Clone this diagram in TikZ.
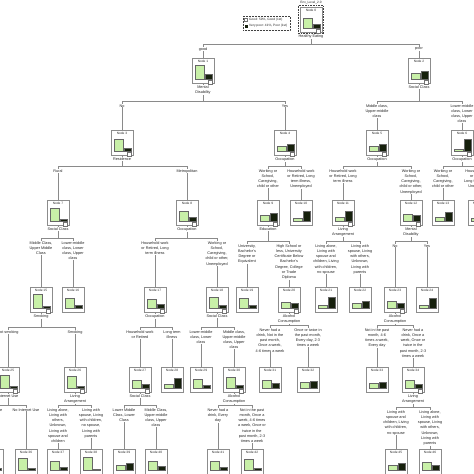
\documentclass[tikz,border=0pt]{standalone}
\usepackage{fontspec}
\setmainfont{Liberation Sans}
\definecolor{gbar}{HTML}{C8F0A8}
\definecolor{kbar}{HTML}{16200C}
\definecolor{lin}{HTML}{8A8A8A}
\tikzset{
  tbox/.style={draw=black!45, line width=0.9pt, fill=white, minimum width=22pt, minimum height=25pt, inner sep=0pt},
  ntitle/.style={font=\fontsize{3.2}{3.6}\selectfont, inner sep=0pt, anchor=north, text=black!85},
  conn/.style={draw=lin, line width=0.5pt},
  elab/.style={font=\fontsize{3.8}{5.2}\selectfont, align=center, fill=white, inner sep=0.3pt, anchor=north, text=black!85},
  greenbar/.style={fill=gbar, draw=black!60, line width=0.3pt},
  blackbar/.style={fill=kbar, draw=black!60, line width=0.3pt},
  togglebox/.style={draw=black!55, fill=white, line width=0.3pt},
}
\newcommand{\tnode}[5]{%
  \node[tbox] (n#1) at ({#2},{#3+12.5}) {};
  \node[ntitle] at ({#2},{#3+2}) {Node #1};
  \path[greenbar] ({#2-8},{#3+21}) rectangle ({#2+1},{#3+21-#4});
  \path[blackbar] ({#2+2},{#3+21}) rectangle ({#2+9},{#3+21-#5});
}
\newcommand{\tog}[2]{\path[togglebox] ({#1+5},{#2+22}) rectangle ({#1+9},{#2+26.5});}
\newcommand{\spl}[3]{\coordinate (s#1) at ({#2},{#3});}
\newcommand{\edg}[3]{%
  \draw[conn] (n#1.south) -- (s#1) -| (n#2.north);
  \node[elab, yshift=-3pt] at (n#2.north |- s#1) {#3};
}
\newcommand{\vlab}[2]{\node[elab, yshift=-1.8pt] at (n#1.south) {#2};}
\begin{document}
\begin{tikzpicture}[x=1pt,y=-1pt]
\useasboundingbox (0,0) rectangle (474,474);
\clip (0,0) rectangle (474,474);
\fill[white] (0,0) rectangle (474,474);
% ---------- nodes ----------
\tnode{0}{311}{7}{10}{4}
\tnode{1}{203}{58}{14}{5}
\tnode{2}{419}{58}{6}{8}
\tnode{3}{122}{130}{12}{3}
\tnode{4}{285}{130}{5}{7}
\tnode{5}{377}{130}{5}{7}
\tnode{6}{462}{130}{2}{12}
\tnode{7}{58}{200}{13}{2}
\tnode{8}{187}{200}{10}{4}
\tnode{9}{268}{200}{6}{8}
\tnode{10}{301}{200}{3}{10}
\tnode{11}{343}{200}{4}{10}
\tnode{12}{411}{200}{7}{6}
\tnode{13}{443}{200}{4}{9}
\tnode{14}{479}{200}{3}{5}
\tnode{15}{41}{287}{14}{2}
\tnode{16}{73}{287}{10}{3}
\tnode{17}{155}{287}{9}{4}
\tnode{18}{217}{287}{11}{3}
\tnode{19}{247}{287}{10}{3}
\tnode{20}{289}{287}{6}{5}
\tnode{21}{326}{287}{3}{11}
\tnode{22}{360}{287}{5}{7}
\tnode{23}{395}{287}{7}{5}
\tnode{24}{427}{287}{3}{10}
\tnode{25}{8}{367}{13}{2}
\tnode{26}{75}{367}{12}{2}
\tnode{27}{140}{367}{8}{4}
\tnode{28}{172}{367}{4}{10}
\tnode{29}{201}{367}{9}{3}
\tnode{30}{234}{367}{11}{3}
\tnode{31}{270}{367}{8}{5}
\tnode{32}{308}{367}{6}{7}
\tnode{33}{377}{367}{5}{6}
\tnode{34}{413}{367}{8}{4}
\tnode{35}{-8}{449}{12}{2}
\tnode{36}{26}{449}{12}{2}
\tnode{37}{58}{449}{9}{3}
\tnode{38}{91}{449}{13}{1}
\tnode{39}{124}{449}{5}{7}
\tnode{40}{156}{449}{9}{4}
\tnode{41}{218}{449}{9}{3}
\tnode{42}{252}{449}{11}{2}
\tnode{45}{396}{449}{5}{7}
\tnode{46}{430}{449}{8}{5}
% root highlight and title
\draw[black!75, densely dotted, line width=0.6pt] (298.5,5.5) rectangle (323.5,33.5);
\node[ntitle] (title) at (311,0.8) {Env\_Level\_2.0};
% legend
\node[draw=black!75, densely dotted, line width=0.5pt, minimum width=47pt, minimum height=14pt, inner sep=0pt] (leg) at (266.5,23) {};
\path[togglebox] (244.5,18.5) rectangle (247.5,21.5);
\fill[kbar] (244.5,24.5) rectangle (247.5,27.5);
\node[ntitle, anchor=west] (leg1) at (249,20) {Good: 59\%, Good (1st)};
\node[ntitle, anchor=west] (leg2) at (249,26) {Very poor: 41\%, Poor (1st)};
% ---------- splits ----------
\spl{0}{311}{44}
\spl{1}{203}{101}
\spl{2}{419}{101}
\spl{3}{122}{166}
\spl{4}{285}{166}
\spl{5}{377}{166}
\spl{6}{462}{166}
\spl{7}{58}{238}
\spl{8}{187}{238}
\spl{9}{268}{241}
\spl{11}{343}{241}
\spl{12}{411}{241}
\spl{15}{41}{327}
\spl{17}{155}{327}
\spl{18}{217}{327}
\spl{20}{289}{325}
\spl{23}{395}{325}
\spl{25}{8}{405}
\spl{26}{75}{405}
\spl{27}{140}{405}
\spl{30}{234}{405}
\spl{34}{413}{407}
% ---------- edges ----------
\edg{0}{1}{good}
\edg{0}{2}{poor}
\edg{1}{3}{No}
\edg{1}{4}{Yes}
\edg{2}{5}{Middle class,\\Upper-middle\\class}
\edg{2}{6}{Lower-middle\\class, Lower\\class, Upper\\class}
\edg{3}{7}{Rural}
\edg{3}{8}{Metropolitan}
\edg{4}{9}{Working or\\School,\\Caregiving,\\child or other}
\edg{4}{10}{Household work\\or Retired, Long\\term illness,\\Unemployed}
\edg{5}{11}{Household work\\or Retired, Long\\term illness}
\edg{5}{12}{Working or\\School,\\Caregiving,\\child or other,\\Unemployed}
\edg{6}{13}{Working or\\School,\\Caregiving,\\child or other}
\edg{6}{14}{Household work\\or Retired,\\Long term illness,\\Unemployed}
\edg{7}{15}{Middle Class,\\Upper Middle\\Class}
\edg{7}{16}{Lower-middle\\class, Lower\\class, Upper\\class}
\edg{8}{17}{Household work\\or Retired, Long\\term illness}
\edg{8}{18}{Working or\\School,\\Caregiving,\\child or other,\\Unemployed}
\edg{9}{19}{University,\\Bachelor's\\Degree or\\Equivalent}
\edg{9}{20}{High School or\\less, University\\Certificate Below\\Bachelor's\\Degree, College\\or Trade\\Diploma}
\edg{11}{21}{Living alone,\\Living with\\spouse and\\children, Living\\with children,\\no spouse}
\edg{11}{22}{Living with\\spouse, Living\\with others,\\Unknown,\\Living with\\parents}
\edg{12}{23}{No}
\edg{12}{24}{Yes}
\edg{15}{25}{Not smoking}
\edg{15}{26}{Smoking}
\edg{17}{27}{Household work\\or Retired}
\edg{17}{28}{Long term\\illness}
\edg{18}{29}{Lower-middle\\class, Lower\\class}
\edg{18}{30}{Middle class,\\Upper-middle\\class, Upper\\class}
\edg{20}{31}{Never had a\\drink, Not in the\\past month,\\Once a week,\\4-6 times a week}
\edg{20}{32}{Once or twice in\\the past month,\\Every day, 2-3\\times a week}
\edg{23}{33}{Not in the past\\month, 4-6\\times a week,\\Every day}
\edg{23}{34}{Never had a\\drink, Once a\\week, Once or\\twice in the\\past month, 2-3\\times a week}
\edg{25}{35}{Internet Use}
\edg{25}{36}{No Internet Use}
\edg{26}{37}{Living alone,\\Living with\\others,\\Unknown,\\Living with\\spouse and\\children}
\edg{26}{38}{Living with\\spouse, Living\\with children,\\no spouse,\\Living with\\parents}
\edg{27}{39}{Lower Middle\\Class, Lower\\Class}
\edg{27}{40}{Middle Class,\\Upper-middle\\class, Upper\\class}
\edg{30}{41}{Never had a\\drink, Every\\day}
\edg{30}{42}{Not in the past\\month, Once a\\week, 4-6 times\\a week, Once or\\twice in the\\past month, 2-3\\times a week}
\edg{34}{45}{Living with\\spouse and\\children, Living\\with children,\\no spouse}
\edg{34}{46}{Living alone,\\Living with\\spouse, Living\\with others,\\Unknown,\\Living with\\parents}
% ---------- variable labels ----------
\vlab{0}{Healthy Eating}
\vlab{1}{Mental\\Disability}
\vlab{2}{Social Class}
\vlab{3}{Residence}
\vlab{4}{Occupation}
\vlab{5}{Occupation}
\vlab{6}{Occupation}
\vlab{7}{Social Class}
\vlab{8}{Occupation}
\vlab{9}{Education}
\vlab{11}{Living\\Arrangement}
\vlab{12}{Mental\\Disability}
\vlab{15}{Smoking}
\vlab{17}{Occupation}
\vlab{18}{Social Class}
\vlab{20}{Alcohol\\Consumption}
\vlab{23}{Alcohol\\Consumption}
\vlab{25}{Internet Use}
\vlab{26}{Living\\Arrangement}
\vlab{27}{Social Class}
\vlab{30}{Alcohol\\Consumption}
\vlab{34}{Living\\Arrangement}
% ---------- toggles ----------
\tog{311}{7}
\tog{203}{58}
\tog{419}{58}
\tog{122}{130}
\tog{285}{130}
\tog{377}{130}
\tog{462}{130}
\tog{58}{200}
\tog{187}{200}
\tog{268}{200}
\tog{343}{200}
\tog{411}{200}
\tog{41}{287}
\tog{155}{287}
\tog{217}{287}
\tog{289}{287}
\tog{395}{287}
\tog{8}{367}
\tog{75}{367}
\tog{140}{367}
\tog{234}{367}
\tog{413}{367}
\end{tikzpicture}
\end{document}
